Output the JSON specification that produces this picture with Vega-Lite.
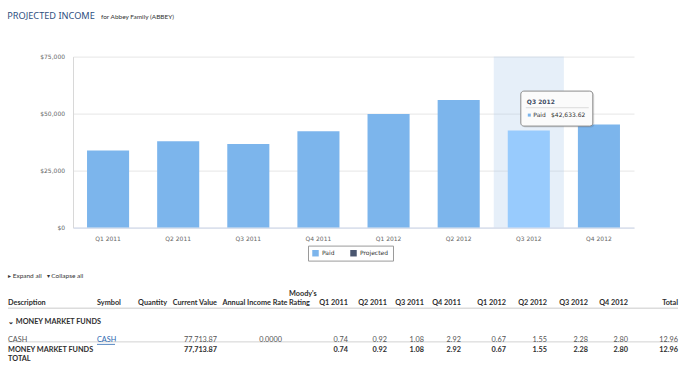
{
  "$schema": "https://vega.github.io/schema/vega-lite/v6.json",
  "padding": {"left": 7, "top": 11.6, "right": 12, "bottom": 6},
  "background": "#ffffff",
  "title": {"text": "PROJECTED INCOME", "anchor": "start", "frame": "bounds", "offset": -14.5, "font": "Noto Sans", "fontSize": 9.2, "fontWeight": "normal", "color": "#2f4f7f", "baseline": "alphabetic"},
  "datasets": {
    "income": [
      {"quarter": "Q1 2011", "series": "Paid", "amount": 33770},
      {"quarter": "Q2 2011", "series": "Paid", "amount": 37850},
      {"quarter": "Q3 2011", "series": "Paid", "amount": 36710},
      {"quarter": "Q4 2011", "series": "Paid", "amount": 42240},
      {"quarter": "Q1 2012", "series": "Paid", "amount": 49870},
      {"quarter": "Q2 2012", "series": "Paid", "amount": 56010},
      {"quarter": "Q3 2012", "series": "Paid", "amount": 42633.62},
      {"quarter": "Q4 2012", "series": "Paid", "amount": 45175}
    ],
    "lines": [
      {"row": "header2", "kind": "head"},
      {"row": "cash", "kind": "sep"}
    ],
    "table": [
      {"row": "controls", "col": "Description", "text": "▸ Expand all\u00a0\u00a0 ▾ Collapse all"},
      {"row": "header2", "col": "Description", "text": "Description"},
      {"row": "group", "col": "Description", "text": "⌄ MONEY MARKET FUNDS"},
      {"row": "cash", "col": "Description", "text": "CASH"},
      {"row": "total1", "col": "Description", "text": "MONEY MARKET FUNDS"},
      {"row": "total2", "col": "Description", "text": "TOTAL"},
      {"row": "header2", "col": "Symbol", "text": "Symbol"},
      {"row": "cash", "col": "Symbol", "text": "CASH"},
      {"row": "header2", "col": "Quantity", "text": "Quantity"},
      {"row": "header2", "col": "Current Value", "text": "Current Value"},
      {"row": "cash", "col": "Current Value", "text": "77,713.87"},
      {"row": "total1", "col": "Current Value", "text": "77,713.87"},
      {"row": "header2", "col": "Annual Income Rate", "text": "Annual Income Rate"},
      {"row": "cash", "col": "Annual Income Rate", "text": "0.0000"},
      {"row": "header1", "col": "Moody's Rating", "text": "Moody's"},
      {"row": "header2", "col": "Moody's Rating", "text": "Rating"},
      {"row": "header2", "col": "Q1 2011", "text": "Q1 2011"},
      {"row": "cash", "col": "Q1 2011", "text": "0.74"},
      {"row": "total1", "col": "Q1 2011", "text": "0.74"},
      {"row": "header2", "col": "Q2 2011", "text": "Q2 2011"},
      {"row": "cash", "col": "Q2 2011", "text": "0.92"},
      {"row": "total1", "col": "Q2 2011", "text": "0.92"},
      {"row": "header2", "col": "Q3 2011", "text": "Q3 2011"},
      {"row": "cash", "col": "Q3 2011", "text": "1.08"},
      {"row": "total1", "col": "Q3 2011", "text": "1.08"},
      {"row": "header2", "col": "Q4 2011", "text": "Q4 2011"},
      {"row": "cash", "col": "Q4 2011", "text": "2.92"},
      {"row": "total1", "col": "Q4 2011", "text": "2.92"},
      {"row": "header2", "col": "Q1 2012", "text": "Q1 2012"},
      {"row": "cash", "col": "Q1 2012", "text": "0.67"},
      {"row": "total1", "col": "Q1 2012", "text": "0.67"},
      {"row": "header2", "col": "Q2 2012", "text": "Q2 2012"},
      {"row": "cash", "col": "Q2 2012", "text": "1.55"},
      {"row": "total1", "col": "Q2 2012", "text": "1.55"},
      {"row": "header2", "col": "Q3 2012", "text": "Q3 2012"},
      {"row": "cash", "col": "Q3 2012", "text": "2.28"},
      {"row": "total1", "col": "Q3 2012", "text": "2.28"},
      {"row": "header2", "col": "Q4 2012", "text": "Q4 2012"},
      {"row": "cash", "col": "Q4 2012", "text": "2.80"},
      {"row": "total1", "col": "Q4 2012", "text": "2.80"},
      {"row": "header2", "col": "Total", "text": "Total"},
      {"row": "cash", "col": "Total", "text": "12.96"},
      {"row": "total1", "col": "Total", "text": "12.96"}
    ]
  },
  "spacing": 11,
  "resolve": {"scale": {"color": "independent"}, "legend": {"color": "independent"}},
  "vconcat": [
    {
      "spacing": 0,
      "bounds": "flush",
      "resolve": {"scale": {"color": "independent"}, "legend": {"color": "independent"}},
      "hconcat": [
        {"width": 65, "height": 171, "data": {"values": [{}]}, "mark": {"type": "rule", "opacity": 0}, "encoding": {}},
        {
          "width": 561,
          "height": 171,
          "title": {"text": "for Abbey Family (ABBEY)", "anchor": "start", "frame": "group", "dx": 28, "offset": 28.2, "font": "Lato", "fontSize": 6.5, "fontWeight": "normal", "color": "#333333", "baseline": "alphabetic"},
          "data": {"name": "income"},
          "layer": [
            {
              "transform": [{"filter": "datum.quarter === 'Q3 2012'"}],
              "mark": {"type": "bar", "width": {"band": 1.6667}, "color": "#acc9eb", "opacity": 0.3},
              "encoding": {
                "x": {"field": "quarter", "type": "nominal",
                      "scale": {"domain": ["Q1 2011", "Q2 2011", "Q3 2011", "Q4 2011", "Q1 2012", "Q2 2012", "Q3 2012", "Q4 2012"], "paddingInner": 0.4, "paddingOuter": 0.2},
                      "axis": {"title": null, "labelAngle": 0, "ticks": false, "tickSize": 0, "labelPadding": 8, "domainColor": "#ccd6eb", "labelFont": "DejaVu Sans", "labelFontSize": 6, "labelColor": "#666666"}},
                "y": {"datum": 75000, "type": "quantitative",
                      "scale": {"domain": [0, 75000], "nice": false},
                      "axis": {"title": null, "values": [0, 25000, 50000, 75000], "format": "$,d", "grid": true, "gridColor": "#e6e6e6", "domainColor": "#d8d8d8", "ticks": false, "tickSize": 0, "labelPadding": 8.5, "labelFont": "DejaVu Sans", "labelFontSize": 6, "labelColor": "#666666"}},
                "y2": {"datum": 0}
              }
            },
            {
              "mark": {"type": "bar"},
              "encoding": {
                "x": {"field": "quarter", "type": "nominal"},
                "y": {"field": "amount", "type": "quantitative"},
                "color": {
                  "condition": {"test": "datum.quarter === 'Q3 2012'", "value": "#98cbfd"},
                  "field": "series", "type": "nominal",
                  "scale": {"domain": ["Paid", "Projected"], "range": ["#7cb5ec", "#4a5670"]},
                  "legend": {"title": null, "orient": "none", "legendX": 235, "legendY": 189, "direction": "horizontal", "symbolType": "square", "symbolSize": 42, "symbolStrokeWidth": 0, "labelFont": "DejaVu Sans", "labelFontSize": 6, "labelColor": "#333333", "labelOffset": 3, "columnPadding": 15, "strokeColor": "#9a9a9a", "padding": 4, "fillColor": "#ffffff"}
                }
              }
            },
            {
              "transform": [{"filter": "datum.quarter === 'Q3 2012'"}],
              "mark": {"type": "rect", "width": 72, "xOffset": 29.5, "yOffset": -37.8, "y2Offset": -2.8, "cornerRadius": 3, "fill": "#000000", "opacity": 0.1},
              "encoding": {"x": {"field": "quarter", "type": "nominal"}, "y": {"field": "amount", "type": "quantitative"}, "y2": {"field": "amount"}}
            },
            {
              "transform": [{"filter": "datum.quarter === 'Q3 2012'"}],
              "mark": {"type": "rect", "width": 72, "xOffset": 28, "yOffset": -39.3, "y2Offset": -4.3, "cornerRadius": 3, "fill": "#fbfbfb", "stroke": "#8c8c8c", "strokeWidth": 1},
              "encoding": {"x": {"field": "quarter", "type": "nominal"}, "y": {"field": "amount", "type": "quantitative"}, "y2": {"field": "amount"}}
            },
            {
              "transform": [{"filter": "datum.quarter === 'Q3 2012'"}],
              "mark": {"type": "rule", "xOffset": -3, "x2Offset": 60, "yOffset": -22.7, "color": "#dcdcdc", "strokeWidth": 1},
              "encoding": {"x": {"field": "quarter", "type": "nominal"}, "x2": {"field": "quarter"}, "y": {"field": "amount", "type": "quantitative"}}
            },
            {
              "transform": [{"filter": "datum.quarter === 'Q3 2012'"}],
              "mark": {"type": "text", "align": "left", "baseline": "middle", "dx": -2, "yOffset": -28.7, "font": "DejaVu Sans", "fontSize": 6, "fontWeight": "bold", "color": "#3e4c63"},
              "encoding": {"x": {"field": "quarter", "type": "nominal"}, "y": {"field": "amount", "type": "quantitative"}, "text": {"field": "quarter"}}
            },
            {
              "transform": [{"filter": "datum.quarter === 'Q3 2012'"}],
              "mark": {"type": "square", "size": 9, "filled": true, "opacity": 1, "color": "#7cb5ec", "xOffset": 0.5, "yOffset": -15.3},
              "encoding": {"x": {"field": "quarter", "type": "nominal"}, "y": {"field": "amount", "type": "quantitative"}}
            },
            {
              "transform": [{"filter": "datum.quarter === 'Q3 2012'"}],
              "mark": {"type": "text", "align": "left", "baseline": "middle", "dx": 4.5, "yOffset": -15.3, "font": "DejaVu Sans", "fontSize": 6, "color": "#333333"},
              "encoding": {"x": {"field": "quarter", "type": "nominal"}, "y": {"field": "amount", "type": "quantitative"}, "text": {"field": "series"}}
            },
            {
              "transform": [{"filter": "datum.quarter === 'Q3 2012'"}],
              "mark": {"type": "text", "align": "right", "baseline": "middle", "dx": 56.5, "yOffset": -15.3, "font": "DejaVu Sans", "fontSize": 6, "color": "#333333"},
              "encoding": {"x": {"field": "quarter", "type": "nominal"}, "y": {"field": "amount", "type": "quantitative"}, "text": {"field": "amount", "type": "quantitative", "format": "$,.2f"}}
            }
          ]
        }
      ]
    },
    {
      "spacing": 0,
      "bounds": "flush",
      "hconcat": [
        {"width": 89, "height": 83.3, "layer": [
          {"data": {"name": "lines"}, "transform": [{"filter": "datum.kind === 'head'"}], "mark": {"type": "rule", "yOffset": 5, "color": "#dcdcdc", "strokeWidth": 1.5}, "encoding": {"y": {"field": "row", "type": "nominal", "scale": {"type": "point", "padding": 0, "domain": ["controls", "gap1", "header1", "header2", "gap2", "group", "gap3", "cash", "total1", "total2"]}, "axis": null}}},
          {"data": {"name": "lines"}, "transform": [{"filter": "datum.kind === 'sep'"}], "mark": {"type": "rule", "yOffset": 1.5, "color": "#d2d2d2", "strokeWidth": 1}, "encoding": {"y": {"field": "row", "type": "nominal"}}},
          {"data": {"name": "table"}, "transform": [{"filter": "datum.col === 'Description' && datum.row !== 'cash' && datum.row !== 'controls'"}], "mark": {"type": "text", "style": "cell", "align": "left", "fontWeight": "bold", "color": "#2e2e2e"}, "encoding": {"x": {"field": "col", "type": "nominal", "scale": {"type": "point", "padding": 0, "align": 0}, "axis": null}, "y": {"field": "row", "type": "nominal"}, "text": {"field": "text"}}},
          {"data": {"name": "table"}, "transform": [{"filter": "datum.col === 'Description' && (datum.row === 'cash' || datum.row === 'controls')"}], "mark": {"type": "text", "style": "cell", "align": "left"}, "encoding": {"x": {"field": "col", "type": "nominal"}, "y": {"field": "row", "type": "nominal"}, "text": {"field": "text"}, "color": {"condition": {"test": "datum.row === 'controls'", "value": "#333333"}, "value": "#555555"}, "size": {"condition": {"test": "datum.row === 'controls'", "value": 6.5}, "value": 7.3}}}
        ]},
        {"width": 18, "height": 83.3, "layer": [
          {"data": {"name": "lines"}, "transform": [{"filter": "datum.kind === 'head'"}], "mark": {"type": "rule", "yOffset": 5, "color": "#dcdcdc", "strokeWidth": 1.5}, "encoding": {"y": {"field": "row", "type": "nominal", "scale": {"type": "point", "padding": 0, "domain": ["controls", "gap1", "header1", "header2", "gap2", "group", "gap3", "cash", "total1", "total2"]}, "axis": null}}},
          {"data": {"name": "lines"}, "transform": [{"filter": "datum.kind === 'sep'"}], "mark": {"type": "rule", "yOffset": 1.5, "color": "#d2d2d2", "strokeWidth": 1}, "encoding": {"y": {"field": "row", "type": "nominal"}}},
          {"data": {"name": "table"}, "transform": [{"filter": "datum.col === 'Symbol' && datum.row === 'cash'"}], "mark": {"type": "rule", "yOffset": 4, "color": "#2a66b0", "strokeWidth": 0.8}, "encoding": {"y": {"field": "row", "type": "nominal"}}},
          {"data": {"name": "table"}, "transform": [{"filter": "datum.col === 'Symbol' && datum.row !== 'cash' && datum.row !== 'controls'"}], "mark": {"type": "text", "style": "cell", "align": "left", "fontWeight": "bold", "color": "#2e2e2e"}, "encoding": {"x": {"field": "col", "type": "nominal", "scale": {"type": "point", "padding": 0, "align": 0}, "axis": null}, "y": {"field": "row", "type": "nominal"}, "text": {"field": "text"}}},
          {"data": {"name": "table"}, "transform": [{"filter": "datum.col === 'Symbol' && (datum.row === 'cash' || datum.row === 'controls')"}], "mark": {"type": "text", "style": "cell", "align": "left", "color": "#2a66b0"}, "encoding": {"x": {"field": "col", "type": "nominal"}, "y": {"field": "row", "type": "nominal"}, "text": {"field": "text"}}}
        ]},
        {"width": 52, "height": 83.3, "layer": [
          {"data": {"name": "lines"}, "transform": [{"filter": "datum.kind === 'head'"}], "mark": {"type": "rule", "yOffset": 5, "color": "#dcdcdc", "strokeWidth": 1.5}, "encoding": {"y": {"field": "row", "type": "nominal", "scale": {"type": "point", "padding": 0, "domain": ["controls", "gap1", "header1", "header2", "gap2", "group", "gap3", "cash", "total1", "total2"]}, "axis": null}}},
          {"data": {"name": "lines"}, "transform": [{"filter": "datum.kind === 'sep'"}], "mark": {"type": "rule", "yOffset": 1.5, "color": "#d2d2d2", "strokeWidth": 1}, "encoding": {"y": {"field": "row", "type": "nominal"}}},
          {"data": {"name": "table"}, "transform": [{"filter": "datum.col === 'Quantity' && datum.row !== 'cash' && datum.row !== 'controls'"}], "mark": {"type": "text", "style": "cell", "align": "right", "fontWeight": "bold", "color": "#2e2e2e"}, "encoding": {"x": {"field": "col", "type": "nominal", "scale": {"type": "point", "padding": 0, "align": 1}, "axis": null}, "y": {"field": "row", "type": "nominal"}, "text": {"field": "text"}}}
        ]},
        {"width": 50, "height": 83.3, "layer": [
          {"data": {"name": "lines"}, "transform": [{"filter": "datum.kind === 'head'"}], "mark": {"type": "rule", "yOffset": 5, "color": "#dcdcdc", "strokeWidth": 1.5}, "encoding": {"y": {"field": "row", "type": "nominal", "scale": {"type": "point", "padding": 0, "domain": ["controls", "gap1", "header1", "header2", "gap2", "group", "gap3", "cash", "total1", "total2"]}, "axis": null}}},
          {"data": {"name": "lines"}, "transform": [{"filter": "datum.kind === 'sep'"}], "mark": {"type": "rule", "yOffset": 1.5, "color": "#d2d2d2", "strokeWidth": 1}, "encoding": {"y": {"field": "row", "type": "nominal"}}},
          {"data": {"name": "table"}, "transform": [{"filter": "datum.col === 'Current Value' && datum.row !== 'cash' && datum.row !== 'controls'"}], "mark": {"type": "text", "style": "cell", "align": "right", "fontWeight": "bold", "color": "#2e2e2e"}, "encoding": {"x": {"field": "col", "type": "nominal", "scale": {"type": "point", "padding": 0, "align": 1}, "axis": null}, "y": {"field": "row", "type": "nominal"}, "text": {"field": "text"}}},
          {"data": {"name": "table"}, "transform": [{"filter": "datum.col === 'Current Value' && datum.row === 'cash'"}], "mark": {"type": "text", "style": "cell", "align": "right", "color": "#555555"}, "encoding": {"x": {"field": "col", "type": "nominal"}, "y": {"field": "row", "type": "nominal"}, "text": {"field": "text"}}}
        ]},
        {"width": 72, "height": 83.3, "layer": [
          {"data": {"name": "lines"}, "transform": [{"filter": "datum.kind === 'head'"}], "mark": {"type": "rule", "yOffset": 5, "color": "#dcdcdc", "strokeWidth": 1.5}, "encoding": {"y": {"field": "row", "type": "nominal", "scale": {"type": "point", "padding": 0, "domain": ["controls", "gap1", "header1", "header2", "gap2", "group", "gap3", "cash", "total1", "total2"]}, "axis": null}}},
          {"data": {"name": "lines"}, "transform": [{"filter": "datum.kind === 'sep'"}], "mark": {"type": "rule", "yOffset": 1.5, "color": "#d2d2d2", "strokeWidth": 1}, "encoding": {"y": {"field": "row", "type": "nominal"}}},
          {"data": {"name": "table"}, "transform": [{"filter": "datum.col === 'Annual Income Rate' && datum.row !== 'cash' && datum.row !== 'controls'"}], "mark": {"type": "text", "style": "cell", "align": "right", "dx": -1.5, "fontWeight": "bold", "color": "#2e2e2e"}, "encoding": {"x": {"field": "col", "type": "nominal", "scale": {"type": "point", "padding": 0, "align": 1}, "axis": null}, "y": {"field": "row", "type": "nominal"}, "text": {"field": "text"}}},
          {"data": {"name": "table"}, "transform": [{"filter": "datum.col === 'Annual Income Rate' && datum.row === 'cash'"}], "mark": {"type": "text", "style": "cell", "align": "right", "dx": -7, "color": "#555555"}, "encoding": {"x": {"field": "col", "type": "nominal"}, "y": {"field": "row", "type": "nominal"}, "text": {"field": "text"}}}
        ]},
        {"width": 22, "height": 83.3, "layer": [
          {"data": {"name": "lines"}, "transform": [{"filter": "datum.kind === 'head'"}], "mark": {"type": "rule", "yOffset": 5, "color": "#dcdcdc", "strokeWidth": 1.5}, "encoding": {"y": {"field": "row", "type": "nominal", "scale": {"type": "point", "padding": 0, "domain": ["controls", "gap1", "header1", "header2", "gap2", "group", "gap3", "cash", "total1", "total2"]}, "axis": null}}},
          {"data": {"name": "lines"}, "transform": [{"filter": "datum.kind === 'sep'"}], "mark": {"type": "rule", "yOffset": 1.5, "color": "#d2d2d2", "strokeWidth": 1}, "encoding": {"y": {"field": "row", "type": "nominal"}}},
          {"data": {"name": "table"}, "transform": [{"filter": "datum.col === \"Moody's Rating\""}], "mark": {"type": "text", "style": "cell", "align": "left", "fontWeight": "bold", "color": "#2e2e2e"}, "encoding": {"x": {"field": "col", "type": "nominal", "scale": {"type": "point", "padding": 0, "align": 0}, "axis": null}, "y": {"field": "row", "type": "nominal"}, "text": {"field": "text"}}}
        ]},
        {"width": 37, "height": 83.3, "layer": [
          {"data": {"name": "lines"}, "transform": [{"filter": "datum.kind === 'head'"}], "mark": {"type": "rule", "yOffset": 5, "color": "#dcdcdc", "strokeWidth": 1.5}, "encoding": {"y": {"field": "row", "type": "nominal", "scale": {"type": "point", "padding": 0, "domain": ["controls", "gap1", "header1", "header2", "gap2", "group", "gap3", "cash", "total1", "total2"]}, "axis": null}}},
          {"data": {"name": "lines"}, "transform": [{"filter": "datum.kind === 'sep'"}], "mark": {"type": "rule", "yOffset": 1.5, "color": "#d2d2d2", "strokeWidth": 1}, "encoding": {"y": {"field": "row", "type": "nominal"}}},
          {"data": {"name": "table"}, "transform": [{"filter": "datum.col === 'Q1 2011' && datum.row !== 'cash'"}], "mark": {"type": "text", "style": "cell", "align": "right", "fontWeight": "bold", "color": "#2e2e2e"}, "encoding": {"x": {"field": "col", "type": "nominal", "scale": {"type": "point", "padding": 0, "align": 1}, "axis": null}, "y": {"field": "row", "type": "nominal"}, "text": {"field": "text"}}},
          {"data": {"name": "table"}, "transform": [{"filter": "datum.col === 'Q1 2011' && datum.row === 'cash'"}], "mark": {"type": "text", "style": "cell", "align": "right", "color": "#555555"}, "encoding": {"x": {"field": "col", "type": "nominal"}, "y": {"field": "row", "type": "nominal"}, "text": {"field": "text"}}}
        ]},
        {"width": 39, "height": 83.3, "layer": [
          {"data": {"name": "lines"}, "transform": [{"filter": "datum.kind === 'head'"}], "mark": {"type": "rule", "yOffset": 5, "color": "#dcdcdc", "strokeWidth": 1.5}, "encoding": {"y": {"field": "row", "type": "nominal", "scale": {"type": "point", "padding": 0, "domain": ["controls", "gap1", "header1", "header2", "gap2", "group", "gap3", "cash", "total1", "total2"]}, "axis": null}}},
          {"data": {"name": "lines"}, "transform": [{"filter": "datum.kind === 'sep'"}], "mark": {"type": "rule", "yOffset": 1.5, "color": "#d2d2d2", "strokeWidth": 1}, "encoding": {"y": {"field": "row", "type": "nominal"}}},
          {"data": {"name": "table"}, "transform": [{"filter": "datum.col === 'Q2 2011' && datum.row !== 'cash'"}], "mark": {"type": "text", "style": "cell", "align": "right", "fontWeight": "bold", "color": "#2e2e2e"}, "encoding": {"x": {"field": "col", "type": "nominal", "scale": {"type": "point", "padding": 0, "align": 1}, "axis": null}, "y": {"field": "row", "type": "nominal"}, "text": {"field": "text"}}},
          {"data": {"name": "table"}, "transform": [{"filter": "datum.col === 'Q2 2011' && datum.row === 'cash'"}], "mark": {"type": "text", "style": "cell", "align": "right", "color": "#555555"}, "encoding": {"x": {"field": "col", "type": "nominal"}, "y": {"field": "row", "type": "nominal"}, "text": {"field": "text"}}}
        ]},
        {"width": 37, "height": 83.3, "layer": [
          {"data": {"name": "lines"}, "transform": [{"filter": "datum.kind === 'head'"}], "mark": {"type": "rule", "yOffset": 5, "color": "#dcdcdc", "strokeWidth": 1.5}, "encoding": {"y": {"field": "row", "type": "nominal", "scale": {"type": "point", "padding": 0, "domain": ["controls", "gap1", "header1", "header2", "gap2", "group", "gap3", "cash", "total1", "total2"]}, "axis": null}}},
          {"data": {"name": "lines"}, "transform": [{"filter": "datum.kind === 'sep'"}], "mark": {"type": "rule", "yOffset": 1.5, "color": "#d2d2d2", "strokeWidth": 1}, "encoding": {"y": {"field": "row", "type": "nominal"}}},
          {"data": {"name": "table"}, "transform": [{"filter": "datum.col === 'Q3 2011' && datum.row !== 'cash'"}], "mark": {"type": "text", "style": "cell", "align": "right", "fontWeight": "bold", "color": "#2e2e2e"}, "encoding": {"x": {"field": "col", "type": "nominal", "scale": {"type": "point", "padding": 0, "align": 1}, "axis": null}, "y": {"field": "row", "type": "nominal"}, "text": {"field": "text"}}},
          {"data": {"name": "table"}, "transform": [{"filter": "datum.col === 'Q3 2011' && datum.row === 'cash'"}], "mark": {"type": "text", "style": "cell", "align": "right", "color": "#555555"}, "encoding": {"x": {"field": "col", "type": "nominal"}, "y": {"field": "row", "type": "nominal"}, "text": {"field": "text"}}}
        ]},
        {"width": 37, "height": 83.3, "layer": [
          {"data": {"name": "lines"}, "transform": [{"filter": "datum.kind === 'head'"}], "mark": {"type": "rule", "yOffset": 5, "color": "#dcdcdc", "strokeWidth": 1.5}, "encoding": {"y": {"field": "row", "type": "nominal", "scale": {"type": "point", "padding": 0, "domain": ["controls", "gap1", "header1", "header2", "gap2", "group", "gap3", "cash", "total1", "total2"]}, "axis": null}}},
          {"data": {"name": "lines"}, "transform": [{"filter": "datum.kind === 'sep'"}], "mark": {"type": "rule", "yOffset": 1.5, "color": "#d2d2d2", "strokeWidth": 1}, "encoding": {"y": {"field": "row", "type": "nominal"}}},
          {"data": {"name": "table"}, "transform": [{"filter": "datum.col === 'Q4 2011' && datum.row !== 'cash'"}], "mark": {"type": "text", "style": "cell", "align": "right", "fontWeight": "bold", "color": "#2e2e2e"}, "encoding": {"x": {"field": "col", "type": "nominal", "scale": {"type": "point", "padding": 0, "align": 1}, "axis": null}, "y": {"field": "row", "type": "nominal"}, "text": {"field": "text"}}},
          {"data": {"name": "table"}, "transform": [{"filter": "datum.col === 'Q4 2011' && datum.row === 'cash'"}], "mark": {"type": "text", "style": "cell", "align": "right", "color": "#555555"}, "encoding": {"x": {"field": "col", "type": "nominal"}, "y": {"field": "row", "type": "nominal"}, "text": {"field": "text"}}}
        ]},
        {"width": 45, "height": 83.3, "layer": [
          {"data": {"name": "lines"}, "transform": [{"filter": "datum.kind === 'head'"}], "mark": {"type": "rule", "yOffset": 5, "color": "#dcdcdc", "strokeWidth": 1.5}, "encoding": {"y": {"field": "row", "type": "nominal", "scale": {"type": "point", "padding": 0, "domain": ["controls", "gap1", "header1", "header2", "gap2", "group", "gap3", "cash", "total1", "total2"]}, "axis": null}}},
          {"data": {"name": "lines"}, "transform": [{"filter": "datum.kind === 'sep'"}], "mark": {"type": "rule", "yOffset": 1.5, "color": "#d2d2d2", "strokeWidth": 1}, "encoding": {"y": {"field": "row", "type": "nominal"}}},
          {"data": {"name": "table"}, "transform": [{"filter": "datum.col === 'Q1 2012' && datum.row !== 'cash'"}], "mark": {"type": "text", "style": "cell", "align": "right", "fontWeight": "bold", "color": "#2e2e2e"}, "encoding": {"x": {"field": "col", "type": "nominal", "scale": {"type": "point", "padding": 0, "align": 1}, "axis": null}, "y": {"field": "row", "type": "nominal"}, "text": {"field": "text"}}},
          {"data": {"name": "table"}, "transform": [{"filter": "datum.col === 'Q1 2012' && datum.row === 'cash'"}], "mark": {"type": "text", "style": "cell", "align": "right", "color": "#555555"}, "encoding": {"x": {"field": "col", "type": "nominal"}, "y": {"field": "row", "type": "nominal"}, "text": {"field": "text"}}}
        ]},
        {"width": 41, "height": 83.3, "layer": [
          {"data": {"name": "lines"}, "transform": [{"filter": "datum.kind === 'head'"}], "mark": {"type": "rule", "yOffset": 5, "color": "#dcdcdc", "strokeWidth": 1.5}, "encoding": {"y": {"field": "row", "type": "nominal", "scale": {"type": "point", "padding": 0, "domain": ["controls", "gap1", "header1", "header2", "gap2", "group", "gap3", "cash", "total1", "total2"]}, "axis": null}}},
          {"data": {"name": "lines"}, "transform": [{"filter": "datum.kind === 'sep'"}], "mark": {"type": "rule", "yOffset": 1.5, "color": "#d2d2d2", "strokeWidth": 1}, "encoding": {"y": {"field": "row", "type": "nominal"}}},
          {"data": {"name": "table"}, "transform": [{"filter": "datum.col === 'Q2 2012' && datum.row !== 'cash'"}], "mark": {"type": "text", "style": "cell", "align": "right", "fontWeight": "bold", "color": "#2e2e2e"}, "encoding": {"x": {"field": "col", "type": "nominal", "scale": {"type": "point", "padding": 0, "align": 1}, "axis": null}, "y": {"field": "row", "type": "nominal"}, "text": {"field": "text"}}},
          {"data": {"name": "table"}, "transform": [{"filter": "datum.col === 'Q2 2012' && datum.row === 'cash'"}], "mark": {"type": "text", "style": "cell", "align": "right", "color": "#555555"}, "encoding": {"x": {"field": "col", "type": "nominal"}, "y": {"field": "row", "type": "nominal"}, "text": {"field": "text"}}}
        ]},
        {"width": 41, "height": 83.3, "layer": [
          {"data": {"name": "lines"}, "transform": [{"filter": "datum.kind === 'head'"}], "mark": {"type": "rule", "yOffset": 5, "color": "#dcdcdc", "strokeWidth": 1.5}, "encoding": {"y": {"field": "row", "type": "nominal", "scale": {"type": "point", "padding": 0, "domain": ["controls", "gap1", "header1", "header2", "gap2", "group", "gap3", "cash", "total1", "total2"]}, "axis": null}}},
          {"data": {"name": "lines"}, "transform": [{"filter": "datum.kind === 'sep'"}], "mark": {"type": "rule", "yOffset": 1.5, "color": "#d2d2d2", "strokeWidth": 1}, "encoding": {"y": {"field": "row", "type": "nominal"}}},
          {"data": {"name": "table"}, "transform": [{"filter": "datum.col === 'Q3 2012' && datum.row !== 'cash'"}], "mark": {"type": "text", "style": "cell", "align": "right", "fontWeight": "bold", "color": "#2e2e2e"}, "encoding": {"x": {"field": "col", "type": "nominal", "scale": {"type": "point", "padding": 0, "align": 1}, "axis": null}, "y": {"field": "row", "type": "nominal"}, "text": {"field": "text"}}},
          {"data": {"name": "table"}, "transform": [{"filter": "datum.col === 'Q3 2012' && datum.row === 'cash'"}], "mark": {"type": "text", "style": "cell", "align": "right", "color": "#555555"}, "encoding": {"x": {"field": "col", "type": "nominal"}, "y": {"field": "row", "type": "nominal"}, "text": {"field": "text"}}}
        ]},
        {"width": 40, "height": 83.3, "layer": [
          {"data": {"name": "lines"}, "transform": [{"filter": "datum.kind === 'head'"}], "mark": {"type": "rule", "yOffset": 5, "color": "#dcdcdc", "strokeWidth": 1.5}, "encoding": {"y": {"field": "row", "type": "nominal", "scale": {"type": "point", "padding": 0, "domain": ["controls", "gap1", "header1", "header2", "gap2", "group", "gap3", "cash", "total1", "total2"]}, "axis": null}}},
          {"data": {"name": "lines"}, "transform": [{"filter": "datum.kind === 'sep'"}], "mark": {"type": "rule", "yOffset": 1.5, "color": "#d2d2d2", "strokeWidth": 1}, "encoding": {"y": {"field": "row", "type": "nominal"}}},
          {"data": {"name": "table"}, "transform": [{"filter": "datum.col === 'Q4 2012' && datum.row !== 'cash'"}], "mark": {"type": "text", "style": "cell", "align": "right", "fontWeight": "bold", "color": "#2e2e2e"}, "encoding": {"x": {"field": "col", "type": "nominal", "scale": {"type": "point", "padding": 0, "align": 1}, "axis": null}, "y": {"field": "row", "type": "nominal"}, "text": {"field": "text"}}},
          {"data": {"name": "table"}, "transform": [{"filter": "datum.col === 'Q4 2012' && datum.row === 'cash'"}], "mark": {"type": "text", "style": "cell", "align": "right", "color": "#555555"}, "encoding": {"x": {"field": "col", "type": "nominal"}, "y": {"field": "row", "type": "nominal"}, "text": {"field": "text"}}}
        ]},
        {"width": 50, "height": 83.3, "layer": [
          {"data": {"name": "lines"}, "transform": [{"filter": "datum.kind === 'head'"}], "mark": {"type": "rule", "yOffset": 5, "color": "#dcdcdc", "strokeWidth": 1.5}, "encoding": {"y": {"field": "row", "type": "nominal", "scale": {"type": "point", "padding": 0, "domain": ["controls", "gap1", "header1", "header2", "gap2", "group", "gap3", "cash", "total1", "total2"]}, "axis": null}}},
          {"data": {"name": "lines"}, "transform": [{"filter": "datum.kind === 'sep'"}], "mark": {"type": "rule", "yOffset": 1.5, "color": "#d2d2d2", "strokeWidth": 1}, "encoding": {"y": {"field": "row", "type": "nominal"}}},
          {"data": {"name": "table"}, "transform": [{"filter": "datum.col === 'Total' && datum.row !== 'cash'"}], "mark": {"type": "text", "style": "cell", "align": "right", "fontWeight": "bold", "color": "#2e2e2e"}, "encoding": {"x": {"field": "col", "type": "nominal", "scale": {"type": "point", "padding": 0, "align": 1}, "axis": null}, "y": {"field": "row", "type": "nominal"}, "text": {"field": "text"}}},
          {"data": {"name": "table"}, "transform": [{"filter": "datum.col === 'Total' && datum.row === 'cash'"}], "mark": {"type": "text", "style": "cell", "align": "right", "color": "#555555"}, "encoding": {"x": {"field": "col", "type": "nominal"}, "y": {"field": "row", "type": "nominal"}, "text": {"field": "text"}}}
        ]}
      ]
    }
  ],
  "config": {
    "view": {"stroke": null},
    "style": {"cell": {"font": "Lato", "fontSize": 7.3, "baseline": "middle"}}
  }
}
